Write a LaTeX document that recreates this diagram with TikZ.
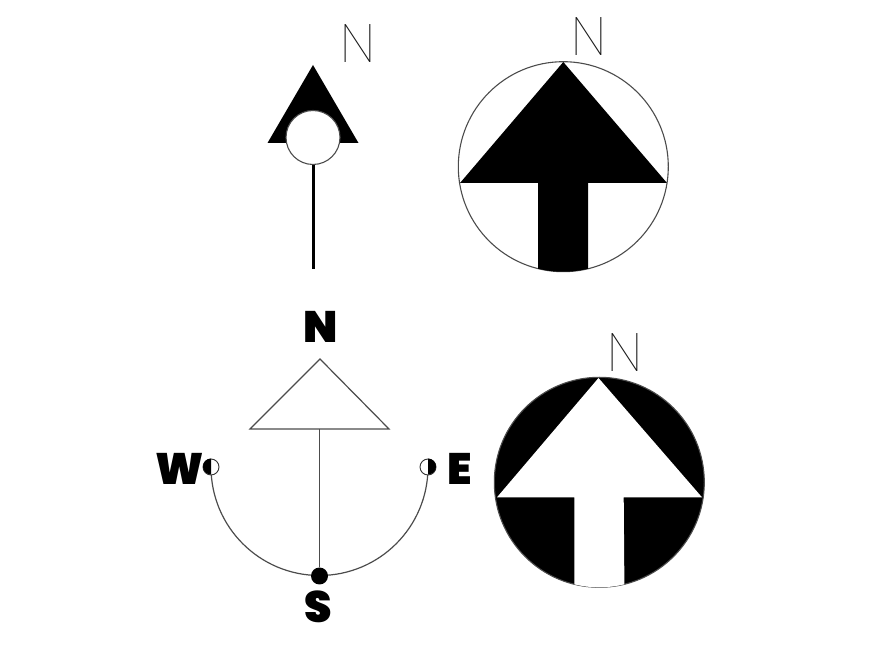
\documentclass[tikz,border=0pt]{standalone}
\usepackage{fontspec}
\usetikzlibrary{backgrounds}
\newfontfamily\thinfont[UprightFont=* Thin]{Poppins}
\newfontfamily\heavyfont[UprightFont=* Black]{Poppins}
\definecolor{linegray}{gray}{.3}
\tikzset{
	ring/.style={circle,inner sep=0,minimum size=210pt,draw=linegray,line width=1.1pt},
	vert/.style={circle,inner sep=0,minimum size=16pt,fill=white,draw=black!80,line width=.9pt},
	dot/.style={circle,inner sep=0,minimum size=17pt,fill=black},
	edge/.style={color=linegray, line width=1.2pt},
	thinlabel/.style={font=\fontsize{54}{54}\thinfont,color=black!90,inner sep=0},
	heavylabel/.style={font=\fontsize{44}{44}\heavyfont,inner sep=0}
}
\begin{document}
\begin{tikzpicture}[x=1pt,y=1pt]
\useasboundingbox (0,0) rectangle (870,645);

% small arrow
\fill (313,580) -- (267.5,502) -- (358.5,502) -- cycle;
\node[circle,inner sep=0,minimum size=54pt,fill=white,draw=linegray,line width=1.1pt] (C1) at (313,507.5) {};
\coordinate (T1) at (313,376);
\draw[line width=3pt] (C1.south) -- (T1);
\node[thinlabel] (N1) at (358,601) {N};

% black arrow in white circle
\node[ring] (C2) at (563.3,478.3) {};
\fill (563.3,583) -- (460,462) -- (538,462) -- (538,376.3)
	arc[start angle=256.2,end angle=283.8,radius=105] -- (588,462) -- (667,462) -- cycle;
\node[thinlabel] (N2) at (589,608) {N};

% white arrow in black circle
\node[ring,fill=black] (C3) at (599.3,162.7) {};
\fill[white] (598.5,267) -- (497,147.7) -- (574.3,147.7) -- (574.3,60.7)
	arc[start angle=256.2,end angle=283.8,radius=105] -- (623.7,147.7) -- (702,147.7) -- cycle;
\node[thinlabel] (N3) at (624.5,292) {N};

% compass
\draw[edge,fill=white,line join=miter] (320,286) -- (250,216) -- (389,216) -- cycle;
\node[vert] (W) at (211,178) {};
\node[vert] (E) at (428,178) {};
\node[dot] (S) at (319.5,69) {};
\coordinate (B) at (319.5,216);
\begin{scope}[on background layer]
	\draw[edge] (W.center) arc[start angle=180,end angle=360,radius=108.5];
\end{scope}
\draw[edge] (B) -- (S);
\fill (W.north) arc[start angle=90,end angle=270,radius=8] -- cycle;
\fill (E.north) arc[start angle=90,end angle=-90,radius=8] -- cycle;

\node[heavylabel] (LN) at (320.5,318) {N};
\node[heavylabel] (LS) at (318,38) {S};
\node[heavylabel] (LW) at (180,176.5) {W};
\node[heavylabel] (LE) at (460,176.5) {E};
\end{tikzpicture}
\end{document}
